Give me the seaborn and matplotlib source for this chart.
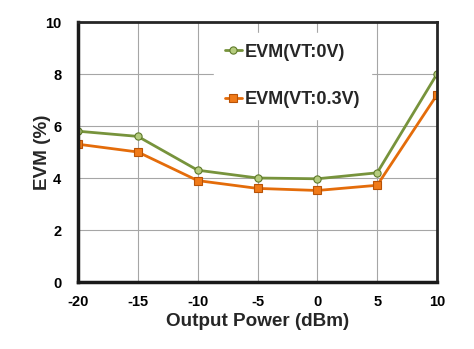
import matplotlib
matplotlib.use("Agg")
import matplotlib.pyplot as plt
import seaborn as sns
import pandas as pd

# Measured EVM versus output power for two tuning voltages
power_dbm = [-20, -15, -10, -5, 0, 5, 10]
evm_vt0 = [5.8, 5.6, 4.3, 4.0, 3.97, 4.2, 8.0]
evm_vt03 = [5.3, 5.0, 3.9, 3.6, 3.52, 3.72, 7.2]
series_names = ["EVM(VT:0V)", "EVM(VT:0.3V)"]
x_ticks = [-20, -15, -10, -5, 0, 5, 10]
y_ticks = [0, 2, 4, 6, 8, 10]

df = pd.concat([
    pd.DataFrame({"power": power_dbm, "evm": evm_vt0, "series": series_names[0]}),
    pd.DataFrame({"power": power_dbm, "evm": evm_vt03, "series": series_names[1]}),
])

sns.set_theme(style="white")
plt.rcParams["font.family"] = ["Liberation Sans", "DejaVu Sans"]
plt.rcParams["font.weight"] = "bold"
plt.rcParams["axes.unicode_minus"] = False

fig = plt.figure(figsize=(4.74, 3.49), dpi=100)
ax = fig.add_axes([78 / 474, 1 - 282 / 349, (437 - 78) / 474, (282 - 22) / 349])

green = "#77933C"
orange = "#E46C0A"
green_face, green_edge = "#B5CC7E", "#5E7A2A"
orange_face, orange_edge = "#F07A18", "#B85206"
lw = 2.0

sns.lineplot(
    data=df, x="power", y="evm", hue="series", style="series",
    palette={series_names[0]: green, series_names[1]: orange},
    markers={series_names[0]: "o", series_names[1]: "s"},
    dashes=False, linewidth=lw, ax=ax, legend=False, zorder=3,
)
lines = ax.get_lines()
lines[0].set_markersize(5.2)
lines[0].set_markerfacecolor(green_face)
lines[0].set_markeredgecolor(green_edge)
lines[0].set_markeredgewidth(0.8)
lines[1].set_markersize(5.6)
lines[1].set_markerfacecolor(orange_face)
lines[1].set_markeredgecolor(orange_edge)
lines[1].set_markeredgewidth(0.8)

ax.set_xlim(-20, 10)
ax.set_ylim(0, 10)
ax.set_xticks(x_ticks)
ax.set_yticks(y_ticks)
ax.grid(True, color="#A6A6A6", linewidth=0.8, zorder=0)
ax.set_axisbelow(True)
ax.tick_params(axis="both", length=0, labelsize=10.5, colors="black")
ax.tick_params(axis="y", pad=12)
ax.tick_params(axis="x", pad=9)
for lab in ax.get_xticklabels() + ax.get_yticklabels():
    lab.set_fontweight("bold")

for side in ["left", "bottom"]:
    ax.spines[side].set_linewidth(2.5)
    ax.spines[side].set_color("#1A1A1A")
for side in ["top", "right"]:
    ax.spines[side].set_linewidth(2.0)
    ax.spines[side].set_color("#262626")
for s in ax.spines.values():
    s.set_zorder(5)

ax.set_xlabel("Output Power (dBm)", fontsize=13.6, fontweight="bold")
ax.set_ylabel("EVM (%)", fontsize=13.6, fontweight="bold")
ax.xaxis.set_label_coords(0.5, -0.118)
ax.yaxis.set_label_coords(-0.076, 0.5)

handles = [
    plt.Line2D([], [], color=green, linewidth=lw, marker="o", markersize=5.2,
               markerfacecolor=green_face, markeredgecolor=green_edge, markeredgewidth=0.8),
    plt.Line2D([], [], color=orange, linewidth=lw, marker="s", markersize=5.6,
               markerfacecolor=orange_face, markeredgecolor=orange_edge, markeredgewidth=0.8),
]
leg = ax.legend(
    handles, series_names, loc="upper left", bbox_to_anchor=(0.38, 0.958),
    frameon=True, fancybox=False, framealpha=1.0, edgecolor="white",
    prop={"size": 13, "weight": "bold"}, handlelength=0.9, handletextpad=0.2,
    labelspacing=1.7, borderpad=0.6, borderaxespad=0,
)
leg.set_zorder(2.5)

fig.savefig("out.png", dpi=100)
